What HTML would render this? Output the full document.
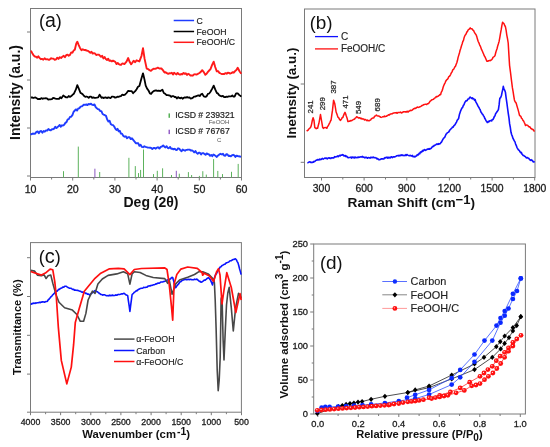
<!DOCTYPE html>
<html><head><meta charset="utf-8"><style>
html,body{margin:0;padding:0;background:#fff;}
svg{display:block;font-family:"Liberation Sans",sans-serif;will-change:transform;}
</style></head><body>
<svg width="550" height="447" viewBox="0 0 550 447">
<rect width="550" height="447" fill="#fff"/>
<rect x="30.5" y="8.5" width="211.0" height="169.0" fill="none" stroke="#7a7a7a" stroke-width="1"/>
<line x1="30.5" y1="177.5" x2="30.5" y2="180.5" stroke="#7a7a7a" stroke-width="1"/>
<line x1="51.6" y1="177.5" x2="51.6" y2="179.5" stroke="#7a7a7a" stroke-width="1"/>
<line x1="72.7" y1="177.5" x2="72.7" y2="180.5" stroke="#7a7a7a" stroke-width="1"/>
<line x1="93.8" y1="177.5" x2="93.8" y2="179.5" stroke="#7a7a7a" stroke-width="1"/>
<line x1="114.9" y1="177.5" x2="114.9" y2="180.5" stroke="#7a7a7a" stroke-width="1"/>
<line x1="136.0" y1="177.5" x2="136.0" y2="179.5" stroke="#7a7a7a" stroke-width="1"/>
<line x1="157.1" y1="177.5" x2="157.1" y2="180.5" stroke="#7a7a7a" stroke-width="1"/>
<line x1="178.2" y1="177.5" x2="178.2" y2="179.5" stroke="#7a7a7a" stroke-width="1"/>
<line x1="199.3" y1="177.5" x2="199.3" y2="180.5" stroke="#7a7a7a" stroke-width="1"/>
<line x1="220.4" y1="177.5" x2="220.4" y2="179.5" stroke="#7a7a7a" stroke-width="1"/>
<line x1="241.5" y1="177.5" x2="241.5" y2="180.5" stroke="#7a7a7a" stroke-width="1"/>
<line x1="27" y1="32" x2="30.5" y2="32" stroke="#7a7a7a" stroke-width="1"/>
<line x1="27" y1="80" x2="30.5" y2="80" stroke="#7a7a7a" stroke-width="1"/>
<line x1="27" y1="128" x2="30.5" y2="128" stroke="#7a7a7a" stroke-width="1"/>
<line x1="27" y1="176" x2="30.5" y2="176" stroke="#7a7a7a" stroke-width="1"/>
<text x="30.6" y="192.6" font-size="10.6" text-anchor="middle" font-weight="normal" fill="#1c1c1c"  stroke="#1c1c1c" stroke-width="0.3">10</text>
<text x="72.80000000000001" y="192.6" font-size="10.6" text-anchor="middle" font-weight="normal" fill="#1c1c1c"  stroke="#1c1c1c" stroke-width="0.3">20</text>
<text x="115.0" y="192.6" font-size="10.6" text-anchor="middle" font-weight="normal" fill="#1c1c1c"  stroke="#1c1c1c" stroke-width="0.3">30</text>
<text x="157.20000000000002" y="192.6" font-size="10.6" text-anchor="middle" font-weight="normal" fill="#1c1c1c"  stroke="#1c1c1c" stroke-width="0.3">40</text>
<text x="199.4" y="192.6" font-size="10.6" text-anchor="middle" font-weight="normal" fill="#1c1c1c"  stroke="#1c1c1c" stroke-width="0.3">50</text>
<text x="241.6" y="192.6" font-size="10.6" text-anchor="middle" font-weight="normal" fill="#1c1c1c"  stroke="#1c1c1c" stroke-width="0.3">60</text>
<line x1="63.5" y1="177.5" x2="63.5" y2="171.2" stroke="#5cb25c" stroke-width="1"/>
<line x1="78.3" y1="177.5" x2="78.3" y2="146.6" stroke="#5cb25c" stroke-width="1"/>
<line x1="99.7" y1="177.5" x2="99.7" y2="172" stroke="#5cb25c" stroke-width="1"/>
<line x1="128.9" y1="177.5" x2="128.9" y2="157.8" stroke="#5cb25c" stroke-width="1"/>
<line x1="135.3" y1="177.5" x2="135.3" y2="166.1" stroke="#5cb25c" stroke-width="1"/>
<line x1="138.5" y1="177.5" x2="138.5" y2="173.1" stroke="#5cb25c" stroke-width="1"/>
<line x1="140.6" y1="177.5" x2="140.6" y2="169.9" stroke="#5cb25c" stroke-width="1"/>
<line x1="143.5" y1="177.5" x2="143.5" y2="149.5" stroke="#5cb25c" stroke-width="1"/>
<line x1="153.5" y1="177.5" x2="153.5" y2="174.1" stroke="#5cb25c" stroke-width="1"/>
<line x1="157.3" y1="177.5" x2="157.3" y2="170.8" stroke="#5cb25c" stroke-width="1"/>
<line x1="162.6" y1="177.5" x2="162.6" y2="168.3" stroke="#5cb25c" stroke-width="1"/>
<line x1="171.5" y1="177.5" x2="171.5" y2="175" stroke="#5cb25c" stroke-width="1"/>
<line x1="179.3" y1="177.5" x2="179.3" y2="173.7" stroke="#5cb25c" stroke-width="1"/>
<line x1="188.4" y1="177.5" x2="188.4" y2="172.1" stroke="#5cb25c" stroke-width="1"/>
<line x1="191.6" y1="177.5" x2="191.6" y2="175" stroke="#5cb25c" stroke-width="1"/>
<line x1="199.4" y1="177.5" x2="199.4" y2="175.9" stroke="#5cb25c" stroke-width="1"/>
<line x1="202.8" y1="177.5" x2="202.8" y2="171.2" stroke="#5cb25c" stroke-width="1"/>
<line x1="206.3" y1="177.5" x2="206.3" y2="174.6" stroke="#5cb25c" stroke-width="1"/>
<line x1="213.6" y1="177.5" x2="213.6" y2="159.1" stroke="#5cb25c" stroke-width="1"/>
<line x1="217.8" y1="177.5" x2="217.8" y2="170.9" stroke="#5cb25c" stroke-width="1"/>
<line x1="222.5" y1="177.5" x2="222.5" y2="174.1" stroke="#5cb25c" stroke-width="1"/>
<line x1="231.5" y1="177.5" x2="231.5" y2="171.8" stroke="#5cb25c" stroke-width="1"/>
<line x1="238.2" y1="177.5" x2="238.2" y2="163.9" stroke="#5cb25c" stroke-width="1"/>
<line x1="94.9" y1="177.5" x2="94.9" y2="168.7" stroke="#8a58c0" stroke-width="1"/>
<line x1="176.3" y1="177.5" x2="176.3" y2="170.8" stroke="#8a58c0" stroke-width="1"/>
<polyline points="30.5,133.8 31.7,134.3 32.9,133.5 34.1,133.8 35.2,133.6 36.4,131.8 37.6,131.4 38.8,133.2 40.0,131.4 41.2,131.0 42.4,132.7 43.6,131.0 44.8,131.7 46.0,130.4 47.2,130.6 48.4,129.0 49.6,130.0 50.8,130.3 52.0,129.1 53.1,129.2 54.2,128.6 55.3,126.7 56.4,128.1 57.5,127.2 58.6,126.1 59.7,125.0 60.8,126.8 61.9,125.3 63.0,125.6 64.2,124.7 65.3,122.9 66.5,122.1 67.7,119.4 68.8,119.1 70.0,116.9 71.2,116.7 72.4,115.2 73.6,111.8 74.8,110.5 76.0,109.3 77.1,110.5 78.3,108.4 79.4,108.2 80.6,106.6 81.7,106.4 82.9,105.4 84.0,104.6 85.2,104.9 86.3,104.5 87.5,105.0 88.7,104.0 89.8,104.3 91.0,103.7 92.2,104.9 93.3,105.0 94.5,104.5 95.7,107.2 96.8,108.3 98.0,109.1 99.1,109.5 100.3,111.1 101.4,111.1 102.6,114.0 103.7,114.6 104.9,115.2 106.0,115.9 107.2,119.5 108.4,121.5 109.6,120.7 110.8,124.2 112.0,124.8 113.1,125.1 114.2,126.5 115.3,128.7 116.4,130.0 117.6,128.8 118.7,131.3 119.8,130.8 120.9,133.6 122.0,133.6 123.2,135.7 124.5,136.7 125.8,136.3 127.0,138.3 128.2,137.1 129.5,137.2 130.8,139.1 132.0,138.3 133.2,139.8 134.5,141.5 135.8,143.2 137.0,143.1 138.2,143.2 139.4,145.8 140.6,144.8 141.9,146.9 143.1,147.2 144.3,146.3 145.5,146.9 146.6,147.2 147.8,147.6 148.9,147.6 150.1,147.7 151.2,148.0 152.3,148.9 153.5,147.9 154.6,147.9 155.8,148.7 156.9,147.6 158.2,147.3 159.4,148.6 160.7,146.9 162.0,146.5 163.2,145.4 164.3,146.7 165.4,147.4 166.6,146.2 167.8,148.0 168.9,148.2 170.1,147.0 171.2,148.7 172.3,148.6 173.5,149.4 174.7,148.7 175.8,149.8 176.9,150.0 178.1,148.3 179.2,148.6 180.4,150.3 181.6,151.2 182.7,149.5 183.8,150.2 185.0,150.7 186.1,149.9 187.2,149.8 188.4,149.6 189.5,149.6 190.7,150.6 191.8,150.3 193.0,151.0 194.2,152.4 195.4,151.0 196.5,152.8 197.7,153.7 198.8,152.8 199.9,152.7 201.1,154.4 202.2,153.1 203.3,153.1 204.4,153.9 205.6,154.8 206.7,153.4 207.8,154.1 208.9,154.3 210.1,155.8 211.2,154.9 212.3,156.2 213.4,154.5 214.6,155.1 215.7,156.1 216.8,156.9 218.1,155.4 219.4,154.4 220.6,153.8 221.9,154.5 223.0,153.7 224.1,155.5 225.3,155.7 226.4,154.1 227.5,154.5 228.6,156.0 229.8,155.8 230.9,156.3 232.0,155.3 233.1,154.8 234.3,155.4 235.4,156.9 236.5,155.6 237.6,156.0 238.8,156.3 239.9,156.5 241.0,156.8" fill="none" stroke="#1f3cff" stroke-width="1.9" stroke-linejoin="round" />
<polyline points="30.9,97.5 32.1,97.4 33.2,98.0 34.4,97.6 35.5,97.5 36.7,98.2 37.8,99.2 39.0,99.0 40.2,99.0 41.3,98.1 42.5,98.8 43.6,98.4 44.8,98.3 45.9,98.2 47.1,98.5 48.3,99.7 49.5,99.4 50.7,99.3 51.9,99.2 53.1,98.0 54.2,98.2 55.4,98.6 56.6,98.8 57.8,98.9 59.0,98.9 60.2,97.3 61.4,98.2 63.3,95.4 64.8,96.6 66.2,97.4 67.5,97.3 68.7,96.0 70.0,96.9 71.3,96.1 72.5,94.9 73.8,93.8 75.8,89.7 77.3,85.1 78.8,88.7 80.5,92.9 81.7,93.5 82.9,94.5 84.1,96.0 85.3,96.9 86.4,96.5 87.6,96.8 88.7,97.9 89.9,96.6 91.0,96.7 92.1,97.8 93.3,97.3 94.4,97.9 95.6,97.8 96.7,97.7 98.2,97.4 99.6,94.6 101.5,97.8 102.6,97.4 103.8,98.1 104.9,97.4 106.0,97.5 107.2,98.1 108.3,97.3 109.4,97.7 110.5,98.2 111.7,96.7 112.8,96.6 113.9,96.8 115.1,97.7 116.2,97.4 117.3,96.7 118.5,96.8 119.6,96.4 120.9,96.2 122.3,94.7 123.7,95.1 125.0,94.7 126.6,93.0 128.2,90.8 130.0,91.2 131.6,91.1 133.1,93.2 135.2,91.2 136.6,89.2 138.0,86.8 139.4,86.0 141.5,78.2 143.0,73.3 144.5,79.6 145.7,85.7 147.1,88.6 148.5,90.5 149.9,93.4 151.1,93.9 152.3,92.2 153.6,91.1 154.8,90.6 156.0,90.3 157.2,90.9 158.8,90.7 160.3,91.1 162.4,89.7 163.8,93.0 165.2,93.8 166.6,95.2 167.8,95.1 168.9,95.3 170.0,95.7 171.2,96.9 172.3,96.1 173.5,96.1 174.7,97.2 175.8,96.9 176.9,98.5 178.1,97.1 179.2,97.9 180.4,98.3 181.5,97.6 182.6,98.7 183.8,97.8 184.9,97.3 186.0,97.6 187.1,97.0 188.3,97.7 189.4,97.3 190.5,98.5 191.7,98.4 192.8,97.8 194.0,96.6 195.2,96.6 196.3,96.1 197.5,95.7 198.7,95.3 199.8,96.1 201.0,94.4 202.2,93.8 203.8,96.4 205.3,96.8 206.6,96.3 207.9,93.9 209.2,93.5 210.5,91.8 212.1,88.9 213.7,85.6 215.2,89.4 216.8,92.9 218.0,93.6 219.2,95.3 220.4,95.9 221.7,96.4 222.9,95.9 224.1,97.0 225.3,97.1 226.4,96.7 227.6,96.9 228.8,96.3 229.9,96.4 231.1,96.4 232.3,95.5 233.4,96.6 234.6,96.5 236.1,93.3 237.7,93.3 238.9,94.7 240.1,95.6 241.3,96.7" fill="none" stroke="#000" stroke-width="1.8" stroke-linejoin="round" />
<polyline points="30.9,50.6 32.3,53.2 33.7,55.6 34.9,56.6 36.0,56.7 37.2,57.7 38.3,56.3 39.5,57.8 40.8,59.2 42.0,58.9 43.3,59.7 44.6,58.3 45.8,59.4 47.1,59.2 48.4,59.7 49.6,59.7 50.9,58.3 52.2,58.6 53.4,58.6 54.7,59.8 56.0,59.3 57.3,57.7 58.5,58.9 59.8,57.2 61.1,58.0 62.4,56.7 63.7,55.8 64.9,57.2 66.2,55.2 67.5,54.6 68.7,55.7 70.0,54.9 71.2,52.4 72.4,52.7 73.6,50.6 74.8,49.7 76.3,43.4 77.3,41.7 78.6,44.9 80.0,47.9 81.5,50.2 82.8,49.3 84.0,50.0 85.3,50.0 86.6,50.5 87.8,50.8 89.1,51.8 90.3,52.8 91.5,51.8 92.7,53.6 93.8,53.2 95.0,53.5 96.2,55.0 97.4,54.6 98.6,54.6 99.8,55.6 101.0,56.7 102.2,55.8 103.4,58.4 104.6,57.0 105.8,59.1 107.0,60.0 108.2,58.7 109.4,60.9 110.6,60.5 111.8,61.4 113.0,60.6 114.1,61.2 115.3,61.9 116.5,64.1 117.7,62.9 118.8,64.2 119.9,64.7 121.1,64.8 122.2,63.5 123.3,63.6 124.4,64.1 126.5,61.6 128.2,58.0 129.6,61.8 131.1,64.3 132.1,63.0 133.6,60.7 135.2,62.2 136.6,60.3 138.0,60.8 139.4,61.4 141.5,55.8 143.0,48.2 144.6,58.9 146.7,68.6 148.1,69.1 149.5,70.2 150.9,70.9 152.2,69.6 153.6,68.7 154.9,68.9 156.2,68.5 157.8,67.7 159.3,68.5 161.4,68.5 162.9,70.1 164.5,72.5 165.7,72.3 166.9,73.2 168.2,73.9 169.4,73.3 170.6,73.4 171.8,72.7 173.0,74.6 174.1,72.7 175.3,73.7 176.5,74.4 177.6,72.9 178.8,74.2 180.0,74.7 181.1,74.0 182.3,74.3 183.5,72.9 184.6,73.8 185.8,73.3 187.0,74.9 188.1,73.8 189.3,74.3 190.5,75.6 191.6,75.4 192.8,75.7 194.0,74.4 195.3,74.3 196.5,74.6 197.8,73.9 199.0,73.2 200.6,72.1 202.2,70.2 203.8,72.1 205.3,74.8 206.6,73.7 207.9,71.9 209.2,70.5 210.5,69.1 212.1,64.9 213.7,61.7 215.2,67.0 216.8,71.4 218.1,71.1 219.4,72.8 220.7,73.5 222.0,74.1 223.2,73.9 224.3,74.0 225.5,73.1 226.7,73.7 227.8,72.7 229.0,73.0 230.2,73.5 231.3,73.2 232.5,72.2 233.8,72.7 235.1,71.1 236.4,70.0 237.7,67.8 239.8,71.7 241.3,73.7" fill="none" stroke="#ff1a1a" stroke-width="1.9" stroke-linejoin="round" />
<text x="39" y="26.5" font-size="18" text-anchor="start" font-weight="normal" fill="#111" >(<tspan font-size="19.5">a</tspan>)</text>
<line x1="173.7" y1="20.5" x2="194.1" y2="20.5" stroke="#1f3cff" stroke-width="1.5"/>
<text x="196.5" y="23.6" font-size="8.7" text-anchor="start" font-weight="normal" fill="#222"  stroke="#222" stroke-width="0.15">C</text>
<line x1="173.7" y1="31.5" x2="194.1" y2="31.5" stroke="#000" stroke-width="1.5"/>
<text x="196.5" y="34.6" font-size="8.7" text-anchor="start" font-weight="normal" fill="#222"  stroke="#222" stroke-width="0.15">FeOOH</text>
<line x1="173.7" y1="42.3" x2="194.1" y2="42.3" stroke="#ff1a1a" stroke-width="1.5"/>
<text x="196.5" y="45.4" font-size="8.7" text-anchor="start" font-weight="normal" fill="#222"  stroke="#222" stroke-width="0.15">FeOOH/C</text>
<rect x="168.6" y="113.4" width="1.2" height="4.4" fill="#2e9e2e"/>
<rect x="168.6" y="129.7" width="1.2" height="4.4" fill="#7a38b8"/>
<text x="175.2" y="118.1" font-size="8.7" text-anchor="start" font-weight="normal" fill="#222"  stroke="#222" stroke-width="0.2">ICSD # 239321</text>
<text x="219" y="123.8" font-size="6" text-anchor="middle" font-weight="normal" fill="#555" >FeOOH</text>
<text x="175.2" y="134.1" font-size="8.7" text-anchor="start" font-weight="normal" fill="#222"  stroke="#222" stroke-width="0.2">ICSD # 76767</text>
<text x="219.2" y="142" font-size="6" text-anchor="middle" font-weight="normal" fill="#555" >C</text>
<text x="19.5" y="92.5" font-size="14" text-anchor="middle" font-weight="bold" fill="#111" transform="rotate(-90 19.5 92.5)" >Intensity (a.u.)</text>
<text x="151" y="207" font-size="14" text-anchor="middle" font-weight="bold" fill="#111" >Deg (2θ)</text>
<rect x="304.5" y="9" width="230.5" height="168.5" fill="none" stroke="#7a7a7a" stroke-width="1"/>
<line x1="321.5" y1="177.5" x2="321.5" y2="180.5" stroke="#7a7a7a" stroke-width="1"/>
<line x1="342.8" y1="177.5" x2="342.8" y2="179.5" stroke="#7a7a7a" stroke-width="1"/>
<line x1="364.1" y1="177.5" x2="364.1" y2="180.5" stroke="#7a7a7a" stroke-width="1"/>
<line x1="385.5" y1="177.5" x2="385.5" y2="179.5" stroke="#7a7a7a" stroke-width="1"/>
<line x1="406.8" y1="177.5" x2="406.8" y2="180.5" stroke="#7a7a7a" stroke-width="1"/>
<line x1="428.1" y1="177.5" x2="428.1" y2="179.5" stroke="#7a7a7a" stroke-width="1"/>
<line x1="449.4" y1="177.5" x2="449.4" y2="180.5" stroke="#7a7a7a" stroke-width="1"/>
<line x1="470.7" y1="177.5" x2="470.7" y2="179.5" stroke="#7a7a7a" stroke-width="1"/>
<line x1="492.1" y1="177.5" x2="492.1" y2="180.5" stroke="#7a7a7a" stroke-width="1"/>
<line x1="513.4" y1="177.5" x2="513.4" y2="179.5" stroke="#7a7a7a" stroke-width="1"/>
<line x1="534.7" y1="177.5" x2="534.7" y2="180.5" stroke="#7a7a7a" stroke-width="1"/>
<line x1="300.7" y1="84" x2="304.5" y2="84" stroke="#7a7a7a" stroke-width="1"/>
<line x1="300.7" y1="162.3" x2="304.5" y2="162.3" stroke="#7a7a7a" stroke-width="1"/>
<text x="321.5" y="192" font-size="10.4" text-anchor="middle" font-weight="normal" fill="#1c1c1c"  stroke="#1c1c1c" stroke-width="0.3">300</text>
<text x="364.14" y="192" font-size="10.4" text-anchor="middle" font-weight="normal" fill="#1c1c1c"  stroke="#1c1c1c" stroke-width="0.3">600</text>
<text x="406.78" y="192" font-size="10.4" text-anchor="middle" font-weight="normal" fill="#1c1c1c"  stroke="#1c1c1c" stroke-width="0.3">900</text>
<text x="449.42" y="192" font-size="10.4" text-anchor="middle" font-weight="normal" fill="#1c1c1c"  stroke="#1c1c1c" stroke-width="0.3">1200</text>
<text x="492.06" y="192" font-size="10.4" text-anchor="middle" font-weight="normal" fill="#1c1c1c"  stroke="#1c1c1c" stroke-width="0.3">1500</text>
<text x="534.7" y="192" font-size="10.4" text-anchor="middle" font-weight="normal" fill="#1c1c1c"  stroke="#1c1c1c" stroke-width="0.3">1800</text>
<polyline points="307.3,162.7 308.0,162.7 308.6,162.3 309.3,162.0 310.0,161.7 310.7,162.5 311.4,162.3 312.0,162.6 312.7,162.1 313.3,162.3 313.9,161.3 314.5,161.6 315.2,161.1 315.8,160.4 316.4,160.1 317.0,160.2 317.6,159.5 318.2,159.8 318.8,160.0 319.4,159.2 320.0,159.7 320.6,159.4 321.2,159.5 321.8,158.8 322.4,158.4 323.0,159.1 323.6,159.0 324.2,158.5 324.8,158.0 325.4,158.1 326.0,158.5 326.6,158.0 327.2,158.8 327.8,158.3 328.5,157.8 329.1,158.2 329.7,157.8 330.3,158.5 330.9,158.4 331.5,157.8 332.1,157.9 332.7,157.9 333.3,157.9 333.9,157.9 334.6,156.6 335.2,156.9 335.8,157.0 336.4,156.5 337.1,156.6 337.7,155.9 338.3,156.6 338.9,156.0 339.6,155.4 340.2,155.9 340.8,155.3 341.4,155.0 342.1,155.1 342.7,154.6 343.3,154.9 344.0,156.0 344.6,156.0 345.3,155.5 345.9,156.7 346.5,156.0 347.2,156.7 347.8,157.6 348.5,157.6 349.1,157.5 349.7,157.5 350.3,157.5 350.9,157.1 351.5,158.1 352.1,157.0 352.7,157.4 353.3,157.7 353.9,157.2 354.5,157.9 355.1,157.0 355.8,157.8 356.4,157.7 357.0,157.3 357.6,157.6 358.2,157.0 358.8,157.4 359.4,157.3 360.0,156.9 360.6,156.9 361.2,157.1 361.8,156.7 362.4,156.4 363.0,157.4 363.6,157.0 364.2,157.4 364.9,157.9 365.5,157.3 366.1,157.2 366.7,157.5 367.3,158.2 368.0,157.8 368.6,157.6 369.3,157.7 370.0,158.2 370.7,157.2 371.4,157.3 372.0,157.8 372.7,157.3 373.3,157.1 373.9,157.6 374.5,157.7 375.1,157.5 375.7,158.0 376.4,158.1 377.0,158.9 377.6,158.5 378.2,159.1 378.8,159.7 379.4,159.8 380.0,159.4 380.6,159.4 381.2,158.9 381.9,158.9 382.5,158.8 383.1,159.0 383.8,159.0 384.4,158.0 385.0,157.5 385.6,158.0 386.2,157.4 386.8,157.3 387.4,158.1 388.0,157.2 388.6,157.9 389.3,157.4 389.9,158.0 390.5,157.8 391.1,156.7 391.7,156.8 392.3,157.6 393.0,157.1 393.6,156.7 394.3,157.0 394.9,156.9 395.6,156.4 396.2,156.2 396.9,155.7 397.5,155.8 398.2,155.4 398.8,155.9 399.5,155.7 400.1,155.1 400.8,155.7 401.4,155.0 402.0,154.9 402.6,155.5 403.3,155.3 403.9,155.7 404.5,155.4 405.2,155.4 405.8,154.7 406.4,155.4 407.0,154.5 407.7,155.1 408.3,155.4 409.0,155.6 409.6,155.7 410.3,155.3 410.9,155.8 411.6,156.1 412.2,155.4 412.9,156.6 413.5,156.7 414.2,156.3 414.8,156.9 415.5,156.6 416.1,155.9 416.7,155.9 417.3,154.6 417.9,155.0 418.5,154.7 419.1,153.3 419.8,153.6 420.4,152.1 421.0,152.5 421.6,151.3 422.2,151.6 422.8,150.4 423.4,150.9 424.1,149.7 424.7,149.6 425.4,150.4 426.0,150.1 426.7,149.8 427.3,149.1 428.0,149.1 428.6,149.2 429.2,148.5 429.8,149.2 430.4,148.5 431.0,148.4 431.6,147.7 432.2,146.9 432.9,146.2 433.5,146.5 434.1,145.4 434.7,145.5 435.3,145.0 435.9,144.7 436.5,144.1 437.2,144.0 437.8,144.4 438.4,143.7 439.0,144.2 439.7,143.7 440.3,143.7 440.9,142.5 441.6,142.0 442.2,140.7 442.9,139.4 443.5,138.4 444.2,137.7 444.8,137.1 445.5,135.5 446.1,134.1 446.7,133.6 447.4,132.7 448.0,132.4 448.7,132.0 449.3,131.0 450.0,129.8 450.6,129.2 451.3,128.6 451.9,127.9 452.5,127.1 453.2,127.1 453.8,125.8 454.5,125.2 455.1,124.6 455.8,123.2 456.5,122.1 457.2,120.3 457.9,119.4 458.6,118.5 459.4,114.6 460.1,112.4 460.7,110.8 461.4,109.1 462.0,107.9 462.6,107.5 463.3,105.4 463.9,104.9 464.6,102.9 465.2,101.9 465.8,100.9 466.4,100.9 467.1,100.6 467.7,99.3 468.3,99.1 468.9,98.9 469.6,97.5 470.2,97.1 470.8,97.7 471.4,98.3 472.1,97.8 472.7,98.8 473.3,98.5 473.9,98.9 474.6,100.3 475.2,99.6 475.8,101.9 476.4,102.9 477.1,104.1 477.7,105.4 478.3,106.6 478.9,107.4 479.6,108.9 480.2,109.8 480.8,111.7 481.5,112.7 482.1,113.8 482.8,114.3 483.4,115.8 484.1,116.5 484.7,118.2 485.4,119.3 486.0,120.7 486.7,121.4 487.3,122.5 487.9,122.4 488.6,121.3 489.2,121.6 489.8,120.7 490.4,120.8 491.1,120.3 491.7,121.0 492.3,119.6 493.0,119.5 493.6,118.4 494.3,116.6 494.9,115.9 495.6,113.8 496.3,112.8 497.0,111.7 497.7,110.7 498.4,109.6 499.1,104.9 499.8,98.4 500.6,97.6 501.4,95.8 502.0,92.6 502.7,89.8 503.3,86.4 504.0,89.1 504.7,90.2 505.4,92.2 506.1,97.7 506.9,103.2 507.6,108.5 508.3,113.7 509.0,118.2 509.6,123.7 510.3,127.4 511.0,132.3 511.7,134.7 512.4,136.4 513.0,138.4 513.7,139.7 514.3,140.9 515.0,141.9 515.6,144.0 516.2,145.3 516.9,147.3 517.5,148.4 518.1,149.4 518.8,150.2 519.4,150.6 520.0,151.8 520.7,152.6 521.3,152.4 522.0,154.1 522.6,154.7 523.2,155.5 523.9,155.6 524.5,156.2 525.1,156.4 525.7,157.0 526.3,157.9 526.9,157.7 527.5,157.6 528.1,158.3 528.7,158.3 529.4,159.3 530.0,159.8 530.6,160.3 531.2,159.7 531.8,160.4 532.4,160.4 533.0,161.7 533.6,161.9 534.8,161.7" fill="none" stroke="#1010ff" stroke-width="1.6" stroke-linejoin="round" />
<polyline points="306.7,131.2 307.4,130.4 308.1,130.2 308.8,128.9 309.5,128.6 310.2,127.8 310.9,126.8 311.6,124.1 312.3,120.5 313.1,117.8 314.0,120.6 314.8,127.6 315.5,128.0 316.2,128.6 316.9,128.0 317.6,128.2 318.2,125.8 318.9,123.3 319.5,120.1 320.5,114.5 321.5,120.5 322.7,127.5 323.4,128.4 324.1,127.8 324.8,127.6 325.5,127.6 326.2,127.8 326.9,128.3 327.5,126.6 328.1,125.9 328.7,124.9 329.3,123.5 329.9,122.6 330.5,121.0 331.1,120.0 331.8,114.9 332.5,110.2 333.6,100.2 334.8,103.8 335.5,108.1 336.1,112.0 336.7,113.5 337.4,115.6 338.0,117.2 338.8,117.9 339.5,119.3 340.3,120.4 340.9,119.9 341.6,118.9 342.2,117.5 342.9,117.4 343.5,115.6 344.2,113.9 345.0,112.3 345.6,113.7 346.3,116.0 347.1,118.2 347.9,121.5 348.6,121.4 349.3,121.1 349.9,121.2 350.6,120.5 351.3,120.7 352.0,120.5 352.6,120.0 353.3,119.5 353.9,119.4 354.6,119.0 355.2,118.1 355.8,117.9 356.5,116.8 357.1,117.0 357.7,117.2 358.4,117.9 359.0,118.0 359.6,117.7 360.2,118.1 360.9,118.7 361.5,118.3 362.1,119.1 362.7,118.9 363.3,119.0 363.9,119.1 364.5,120.0 365.1,119.5 365.8,119.8 366.4,120.1 367.0,120.7 367.6,120.1 368.2,120.6 368.8,120.8 369.4,120.7 370.1,120.2 370.7,119.8 371.3,118.8 372.0,118.5 372.6,118.0 373.2,118.0 373.9,117.7 374.5,116.4 375.1,116.0 375.8,115.6 376.4,115.1 377.0,115.6 377.6,116.0 378.2,115.9 378.8,115.9 379.4,116.5 380.0,116.7 380.6,117.2 381.2,117.4 381.9,117.1 382.5,116.8 383.1,116.8 383.7,116.7 384.4,116.0 385.0,116.7 385.6,116.4 386.3,116.3 386.9,116.0 387.5,115.4 388.1,115.2 388.8,114.7 389.4,115.0 390.0,114.2 390.6,114.0 391.3,113.9 391.9,113.7 392.5,113.7 393.1,113.2 393.8,112.9 394.4,112.9 395.0,112.7 395.6,112.9 396.2,112.5 396.9,113.3 397.5,113.0 398.1,112.4 398.7,112.5 399.3,112.5 399.9,112.4 400.5,112.1 401.1,112.8 401.8,112.9 402.4,112.3 403.0,112.2 403.6,111.7 404.2,111.7 404.8,111.9 405.4,111.7 406.0,112.2 406.7,111.5 407.3,111.3 407.9,112.1 408.5,111.6 409.1,110.9 409.7,111.0 410.3,110.2 410.9,110.4 411.5,110.6 412.1,110.2 412.7,109.7 413.3,109.0 413.9,108.8 414.5,108.3 415.1,108.6 415.7,108.0 416.3,108.0 416.9,107.3 417.5,107.0 418.1,107.4 418.7,107.3 419.4,107.0 420.0,106.7 420.6,106.5 421.2,106.2 421.8,105.5 422.4,105.6 423.0,105.2 423.6,104.6 424.2,104.4 424.9,104.4 425.5,104.2 426.1,104.4 426.7,104.5 427.3,103.7 427.9,103.8 428.5,103.3 429.1,102.8 429.7,101.8 430.3,101.1 430.9,100.7 431.5,100.2 432.1,99.7 432.7,99.6 433.3,99.4 433.9,98.9 434.5,98.1 435.1,97.8 435.7,97.5 436.3,96.5 436.9,96.7 437.5,96.6 438.2,96.1 438.8,95.7 439.4,95.1 440.0,94.4 440.6,94.7 441.2,92.4 441.9,91.1 442.6,89.4 443.2,87.0 443.9,85.2 444.5,83.9 445.1,82.8 445.7,81.3 446.4,80.3 447.0,79.4 447.6,79.2 448.2,78.2 448.8,76.6 449.5,76.3 450.1,75.5 450.7,74.3 451.3,72.9 451.9,72.1 452.5,70.6 453.1,69.4 453.7,69.3 454.3,68.0 454.9,66.8 455.5,66.2 456.1,64.6 456.8,62.7 457.5,60.3 458.1,57.4 458.8,55.1 459.5,52.7 460.1,50.3 460.8,48.3 461.5,45.7 462.2,43.8 462.8,41.5 463.5,40.3 464.1,37.7 464.8,35.8 465.5,34.7 466.2,33.8 466.8,32.1 467.5,31.4 468.2,29.8 468.9,29.4 469.5,28.9 470.2,27.9 470.9,28.7 471.5,28.8 472.2,29.0 472.9,30.1 473.6,30.5 474.2,31.9 474.9,33.2 475.5,34.1 476.2,34.9 476.9,37.1 477.5,39.2 478.2,41.5 478.9,42.8 479.6,44.8 480.3,46.1 480.9,47.7 481.6,49.7 482.3,51.0 483.0,52.7 483.7,54.3 484.3,55.9 485.0,56.9 485.7,58.5 486.3,59.9 487.0,61.3 487.7,61.3 488.3,60.8 489.0,60.7 489.7,60.4 490.3,60.7 491.0,60.2 491.7,59.6 492.3,58.9 493.0,57.4 493.7,56.9 494.3,56.5 495.0,55.6 495.7,52.7 496.4,50.4 497.1,48.5 497.7,45.9 498.4,43.8 499.1,41.4 499.8,37.6 500.5,33.3 501.2,29.7 501.9,25.3 502.6,22.2 503.3,23.2 504.0,23.7 504.7,25.5 505.4,26.7 506.1,30.1 506.8,35.1 507.5,38.7 508.2,43.0 508.9,54.6 509.6,65.6 510.5,72.3 511.4,79.9 512.4,87.7 513.1,91.7 513.7,95.7 514.4,99.9 515.1,101.8 515.9,102.6 516.6,104.6 517.3,107.1 518.0,109.4 518.8,112.4 519.5,115.3 520.2,116.0 520.9,116.4 521.5,118.2 522.2,118.8 522.9,120.3 523.5,120.8 524.2,122.3 524.8,123.5 525.5,125.6 526.3,125.1 527.0,125.1 527.8,125.4 528.4,126.4 529.1,126.9 529.7,126.8 530.3,127.3 530.9,128.6 531.6,128.7 532.2,129.4 532.8,129.3 533.4,129.8 534.1,131.0 534.7,131.3" fill="none" stroke="#ff1010" stroke-width="1.5" stroke-linejoin="round" />
<text x="309.8" y="28.6" font-size="18" text-anchor="start" font-weight="normal" fill="#111" >(<tspan font-size="19">b</tspan>)</text>
<line x1="315" y1="36.6" x2="338" y2="36.6" stroke="#1010ff" stroke-width="1.3"/>
<text x="340.9" y="40.1" font-size="10" text-anchor="start" font-weight="normal" fill="#222"  stroke="#222" stroke-width="0.15">C</text>
<line x1="315" y1="48.9" x2="338" y2="48.9" stroke="#ff1010" stroke-width="1.3"/>
<text x="340.9" y="52.4" font-size="10" text-anchor="start" font-weight="normal" fill="#222"  stroke="#222" stroke-width="0.15">FeOOH/C</text>
<text x="313.3" y="106.9" font-size="7.9" text-anchor="middle" font-weight="normal" fill="#2a2a2a" transform="rotate(-90 313.3 106.9)"  stroke="#2a2a2a" stroke-width="0.25">241</text>
<text x="324.8" y="103.7" font-size="7.9" text-anchor="middle" font-weight="normal" fill="#2a2a2a" transform="rotate(-90 324.8 103.7)"  stroke="#2a2a2a" stroke-width="0.25">299</text>
<text x="335.8" y="87" font-size="7.9" text-anchor="middle" font-weight="normal" fill="#2a2a2a" transform="rotate(-90 335.8 87)"  stroke="#2a2a2a" stroke-width="0.25">387</text>
<text x="347.8" y="102" font-size="7.9" text-anchor="middle" font-weight="normal" fill="#2a2a2a" transform="rotate(-90 347.8 102)"  stroke="#2a2a2a" stroke-width="0.25">471</text>
<text x="360.8" y="107.5" font-size="7.9" text-anchor="middle" font-weight="normal" fill="#2a2a2a" transform="rotate(-90 360.8 107.5)"  stroke="#2a2a2a" stroke-width="0.25">549</text>
<text x="379.8" y="104.8" font-size="7.9" text-anchor="middle" font-weight="normal" fill="#2a2a2a" transform="rotate(-90 379.8 104.8)"  stroke="#2a2a2a" stroke-width="0.25">689</text>
<text x="295.5" y="93" font-size="13.4" text-anchor="middle" font-weight="bold" fill="#111" transform="rotate(-90 295.5 93)" >Inetnsity (a.u.)</text>
<text x="347.6" y="206.5" font-size="13.7" font-weight="bold" fill="#111">Raman Shift (cm<tspan font-size="13" dx="0" dy="-3">−1</tspan><tspan dy="3">)</tspan></text>
<rect x="30.5" y="242.6" width="210.9" height="169.6" fill="none" stroke="#7a7a7a" stroke-width="1"/>
<line x1="30.5" y1="412.2" x2="30.5" y2="415.2" stroke="#7a7a7a" stroke-width="1"/>
<line x1="45.6" y1="412.2" x2="45.6" y2="414.2" stroke="#7a7a7a" stroke-width="1"/>
<line x1="60.6" y1="412.2" x2="60.6" y2="415.2" stroke="#7a7a7a" stroke-width="1"/>
<line x1="75.7" y1="412.2" x2="75.7" y2="414.2" stroke="#7a7a7a" stroke-width="1"/>
<line x1="90.8" y1="412.2" x2="90.8" y2="415.2" stroke="#7a7a7a" stroke-width="1"/>
<line x1="105.8" y1="412.2" x2="105.8" y2="414.2" stroke="#7a7a7a" stroke-width="1"/>
<line x1="120.9" y1="412.2" x2="120.9" y2="415.2" stroke="#7a7a7a" stroke-width="1"/>
<line x1="136.0" y1="412.2" x2="136.0" y2="414.2" stroke="#7a7a7a" stroke-width="1"/>
<line x1="151.1" y1="412.2" x2="151.1" y2="415.2" stroke="#7a7a7a" stroke-width="1"/>
<line x1="166.1" y1="412.2" x2="166.1" y2="414.2" stroke="#7a7a7a" stroke-width="1"/>
<line x1="181.2" y1="412.2" x2="181.2" y2="415.2" stroke="#7a7a7a" stroke-width="1"/>
<line x1="196.3" y1="412.2" x2="196.3" y2="414.2" stroke="#7a7a7a" stroke-width="1"/>
<line x1="211.3" y1="412.2" x2="211.3" y2="415.2" stroke="#7a7a7a" stroke-width="1"/>
<line x1="226.4" y1="412.2" x2="226.4" y2="414.2" stroke="#7a7a7a" stroke-width="1"/>
<line x1="241.5" y1="412.2" x2="241.5" y2="415.2" stroke="#7a7a7a" stroke-width="1"/>
<line x1="27" y1="257.7" x2="30.5" y2="257.7" stroke="#7a7a7a" stroke-width="1"/>
<line x1="27" y1="296.5" x2="30.5" y2="296.5" stroke="#7a7a7a" stroke-width="1"/>
<line x1="27" y1="335.3" x2="30.5" y2="335.3" stroke="#7a7a7a" stroke-width="1"/>
<line x1="27" y1="374.1" x2="30.5" y2="374.1" stroke="#7a7a7a" stroke-width="1"/>
<line x1="27" y1="412.2" x2="30.5" y2="412.2" stroke="#7a7a7a" stroke-width="1"/>
<text x="30.5" y="424.6" font-size="8.8" text-anchor="middle" font-weight="normal" fill="#1c1c1c"  stroke="#1c1c1c" stroke-width="0.3">4000</text>
<text x="60.64" y="424.6" font-size="8.8" text-anchor="middle" font-weight="normal" fill="#1c1c1c"  stroke="#1c1c1c" stroke-width="0.3">3500</text>
<text x="90.78" y="424.6" font-size="8.8" text-anchor="middle" font-weight="normal" fill="#1c1c1c"  stroke="#1c1c1c" stroke-width="0.3">3000</text>
<text x="120.92" y="424.6" font-size="8.8" text-anchor="middle" font-weight="normal" fill="#1c1c1c"  stroke="#1c1c1c" stroke-width="0.3">2500</text>
<text x="151.06" y="424.6" font-size="8.8" text-anchor="middle" font-weight="normal" fill="#1c1c1c"  stroke="#1c1c1c" stroke-width="0.3">2000</text>
<text x="181.2" y="424.6" font-size="8.8" text-anchor="middle" font-weight="normal" fill="#1c1c1c"  stroke="#1c1c1c" stroke-width="0.3">1500</text>
<text x="211.34" y="424.6" font-size="8.8" text-anchor="middle" font-weight="normal" fill="#1c1c1c"  stroke="#1c1c1c" stroke-width="0.3">1000</text>
<text x="241.48000000000002" y="424.6" font-size="8.8" text-anchor="middle" font-weight="normal" fill="#1c1c1c"  stroke="#1c1c1c" stroke-width="0.3">500</text>
<polyline points="30.7,303.7 31.4,304.1 32.2,303.4 32.9,303.7 33.6,303.1 34.3,303.1 35.1,303.5 35.8,302.9 36.5,303.1 37.2,302.8 38.0,302.7 38.7,302.6 39.4,302.3 40.2,302.7 40.9,302.1 41.6,302.1 42.4,301.9 43.1,301.9 43.9,302.0 44.6,302.2 45.3,301.8 46.1,301.5 46.8,301.5 47.5,301.2 48.3,299.7 49.0,299.3 49.7,298.3 50.4,297.6 51.2,296.6 51.9,296.0 52.6,295.0 53.3,294.3 54.1,293.6 54.8,292.6 55.6,291.7 56.3,291.1 57.1,291.1 57.9,290.2 58.7,289.4 59.4,289.4 60.2,288.6 61.0,288.3 61.7,288.1 62.5,287.3 63.2,287.0 64.0,287.1 64.7,286.2 65.5,286.3 66.3,286.2 67.0,286.9 67.8,287.3 68.5,287.8 69.3,288.1 70.0,288.2 70.8,288.3 71.5,288.6 72.3,289.2 73.0,289.4 73.7,289.3 74.4,290.1 75.1,290.0 75.8,290.3 76.5,290.2 77.2,290.4 77.9,290.4 78.7,290.8 79.4,291.0 80.1,291.3 80.8,291.4 81.5,292.0 82.2,292.2 82.9,291.9 83.6,292.2 84.3,292.3 85.1,293.0 85.8,293.5 86.6,293.4 87.4,294.1 88.2,294.1 88.9,294.3 89.7,295.2 90.5,294.3 91.2,293.5 92.0,293.1 92.7,292.3 93.5,291.8 94.2,291.2 95.0,290.5 95.7,291.1 96.5,291.4 97.2,291.7 97.9,292.2 98.6,292.6 99.3,293.4 100.1,293.7 100.8,294.5 101.5,294.5 102.2,294.8 103.0,295.2 103.7,294.7 104.4,294.8 105.1,295.1 105.9,295.4 106.6,295.8 107.3,295.8 108.1,295.5 108.8,295.9 109.5,295.2 110.2,295.7 111.0,295.2 111.7,295.6 112.4,295.0 113.2,295.6 113.9,295.4 114.6,295.5 115.3,295.2 116.1,294.8 116.8,295.3 117.5,294.8 118.3,294.4 119.0,294.6 119.7,294.4 120.4,294.2 121.2,293.9 121.9,293.7 122.6,293.9 123.4,293.6 124.1,293.2 124.8,293.9 125.5,294.5 126.3,295.0 127.0,295.2 127.7,295.6 128.4,300.9 129.2,306.2 129.9,311.5 130.6,305.9 131.4,299.8 132.1,294.5 132.8,293.9 133.5,293.2 134.3,292.3 135.0,291.9 135.7,291.4 136.4,290.6 137.2,290.7 137.9,289.9 138.6,289.2 139.3,289.1 140.1,288.6 140.8,288.4 141.5,288.3 142.2,288.3 143.0,288.0 143.7,287.3 144.4,287.5 145.2,287.5 145.9,287.2 146.6,287.1 147.4,286.9 148.1,286.1 148.8,286.0 149.5,285.9 150.3,286.0 151.0,285.4 151.7,285.5 152.5,285.3 153.2,284.8 153.9,284.7 154.6,284.6 155.4,284.3 156.1,283.7 156.8,283.9 157.6,283.2 158.3,283.0 159.0,283.2 159.7,282.9 160.4,282.3 161.2,282.0 161.9,282.0 162.6,282.0 163.4,281.6 164.1,281.5 164.8,281.2 165.6,280.9 166.5,280.5 167.3,280.0 168.2,279.7 169.0,279.5 169.7,279.1 170.5,278.9 171.2,278.0 172.0,277.4 172.7,277.5 173.6,280.7 174.4,284.4 175.3,287.7 176.1,287.2 176.9,285.8 177.7,284.9 178.4,284.2 179.2,283.0 180.0,281.8 180.8,281.8 181.6,280.9 182.3,280.3 183.1,280.2 183.9,279.6 184.6,279.6 185.3,279.2 186.0,279.6 186.8,279.5 187.5,279.6 188.2,279.3 188.9,279.6 189.6,279.6 190.3,279.3 191.0,279.5 191.7,279.6 192.4,279.7 193.1,279.7 193.8,279.6 194.5,279.1 195.2,279.5 195.9,279.5 196.6,279.1 197.3,279.4 198.0,280.2 198.8,280.8 199.5,281.4 200.3,281.4 201.0,282.3 201.8,282.0 202.6,281.4 203.4,280.8 204.2,280.1 205.0,280.3 205.7,279.7 206.5,279.1 207.2,278.3 208.0,278.1 208.7,277.6 209.6,278.9 210.5,280.1 211.5,282.4 212.5,284.9 213.3,281.9 214.2,278.9 215.0,276.0 215.7,274.4 216.5,273.6 217.2,272.0 218.0,270.6 218.7,269.4 219.5,268.2 220.2,267.0 221.0,266.7 221.8,265.7 222.6,265.3 223.4,264.9 224.2,264.3 225.0,264.2 225.8,263.3 226.6,262.8 227.3,262.6 228.1,262.3 228.9,261.9 229.7,261.2 230.4,260.7 231.1,260.8 231.8,260.3 232.6,259.8 233.3,259.5 234.0,259.4 234.7,259.1 235.4,258.7 236.3,259.7 237.1,261.3 238.0,262.9 238.8,265.7 239.6,269.0 240.3,271.4 241.1,274.6" fill="none" stroke="#0a14ff" stroke-width="1.6" stroke-linejoin="round" />
<polyline points="30.7,270.4 34.7,271.1 37.4,275.1 41.4,275.8 44.1,274.8 46.1,278.5 48.1,275.8 50.8,275.1 52.8,283.2 56.2,295.2 59.0,302.2 64.6,307.8 72.4,310.1 76.9,314.5 80.3,321.3 83.6,321.3 85.9,313.4 88.1,300.0 92.4,291.2 95.0,293.5 97.9,284.1 102.3,279.0 108.1,275.4 116.8,273.9 123.4,271.7 127.7,273.9 129.9,284.1 132.1,273.9 134.3,271.7 140.1,272.5 145.9,275.4 153.2,277.5 164.8,278.6 167.7,283.4 169.2,279.7 172.1,294.3 175.5,284.1 179.5,280.0 187.7,277.3 194.5,274.5 198.6,271.8 202.7,271.8 208.2,273.9 213.6,279.3 214.4,283.0 215.2,300.0 216.1,328.0 217.2,370.0 218.2,390.6 219.2,380.0 220.2,357.0 220.8,320.0 221.1,299.0 222.0,296.0 223.1,339.8 224.0,360.0 225.4,328.0 226.5,305.0 227.8,293.0 229.2,287.4 231.3,307.8 233.3,331.0 235.6,307.8 238.5,293.3 241.2,298.0" fill="none" stroke="#484848" stroke-width="1.6" stroke-linejoin="round" />
<polyline points="30.7,271.5 32.7,272.2 41.4,275.1 45.4,273.1 50.1,269.1 52.8,269.8 54.8,281.8 56.2,295.2 58.3,326.8 61.3,360.4 66.8,383.9 71.3,367.1 73.6,344.7 75.3,322.4 79.1,308.9 84.3,291.2 95.0,278.3 100.8,273.2 109.5,268.8 118.3,268.4 124.1,268.8 129.9,274.6 134.3,269.5 141.5,268.5 164.8,267.8 167.0,269.5 169.2,284.1 171.4,305.9 172.7,320.1 174.1,284.1 176.8,274.5 180.9,269.1 187.7,267.0 197.3,268.4 202.0,272.5 202.7,275.2 204.1,273.2 209.5,275.9 213.6,281.4 216.5,272.0 218.5,268.6 220.0,275.0 222.0,304.0 224.0,290.0 226.8,272.7 231.3,287.4 235.8,312.5 240.0,293.6 241.2,300.0" fill="none" stroke="#ff1010" stroke-width="1.7" stroke-linejoin="round" />
<text x="38.8" y="263.2" font-size="18" text-anchor="start" font-weight="normal" fill="#111" >(<tspan font-size="20">c</tspan>)</text>
<line x1="114" y1="339.1" x2="134.5" y2="339.1" stroke="#484848" stroke-width="1.5"/>
<text x="136.2" y="342.1" font-size="8.8" text-anchor="start" font-weight="normal" fill="#222"  stroke="#222" stroke-width="0.15">α-FeOOH</text>
<line x1="114" y1="350.5" x2="134.5" y2="350.5" stroke="#0a14ff" stroke-width="1.5"/>
<text x="136.2" y="353.5" font-size="8.8" text-anchor="start" font-weight="normal" fill="#222"  stroke="#222" stroke-width="0.15">Carbon</text>
<line x1="114" y1="361.5" x2="134.5" y2="361.5" stroke="#ff1010" stroke-width="1.5"/>
<text x="136.2" y="364.5" font-size="8.8" text-anchor="start" font-weight="normal" fill="#222"  stroke="#222" stroke-width="0.15">α-FeOOH/C</text>
<text x="21.5" y="327.2" font-size="11.1" text-anchor="middle" font-weight="bold" fill="#111" transform="rotate(-90 21.5 327.2)" >Transmittance (%)</text>
<text x="82.2" y="437.8" font-size="11.3" font-weight="bold" fill="#111">Wavenumber (cm<tspan font-size="10.5" dx="1" dy="-3">-1</tspan><tspan dy="3">)</tspan></text>
<rect x="313.7" y="244" width="211.7" height="170" fill="none" stroke="#7a7a7a" stroke-width="1"/>
<line x1="317.8" y1="414" x2="317.8" y2="417" stroke="#7a7a7a" stroke-width="1"/>
<line x1="338.1" y1="414" x2="338.1" y2="416" stroke="#7a7a7a" stroke-width="1"/>
<line x1="358.3" y1="414" x2="358.3" y2="417" stroke="#7a7a7a" stroke-width="1"/>
<line x1="378.6" y1="414" x2="378.6" y2="416" stroke="#7a7a7a" stroke-width="1"/>
<line x1="398.8" y1="414" x2="398.8" y2="417" stroke="#7a7a7a" stroke-width="1"/>
<line x1="419.1" y1="414" x2="419.1" y2="416" stroke="#7a7a7a" stroke-width="1"/>
<line x1="439.3" y1="414" x2="439.3" y2="417" stroke="#7a7a7a" stroke-width="1"/>
<line x1="459.6" y1="414" x2="459.6" y2="416" stroke="#7a7a7a" stroke-width="1"/>
<line x1="479.8" y1="414" x2="479.8" y2="417" stroke="#7a7a7a" stroke-width="1"/>
<line x1="500.1" y1="414" x2="500.1" y2="416" stroke="#7a7a7a" stroke-width="1"/>
<line x1="520.3" y1="414" x2="520.3" y2="417" stroke="#7a7a7a" stroke-width="1"/>
<line x1="310.2" y1="414.0" x2="313.7" y2="414.0" stroke="#7a7a7a" stroke-width="1"/>
<line x1="311.7" y1="397.0" x2="313.7" y2="397.0" stroke="#7a7a7a" stroke-width="1"/>
<line x1="310.2" y1="380.0" x2="313.7" y2="380.0" stroke="#7a7a7a" stroke-width="1"/>
<line x1="311.7" y1="363.0" x2="313.7" y2="363.0" stroke="#7a7a7a" stroke-width="1"/>
<line x1="310.2" y1="346.0" x2="313.7" y2="346.0" stroke="#7a7a7a" stroke-width="1"/>
<line x1="311.7" y1="329.0" x2="313.7" y2="329.0" stroke="#7a7a7a" stroke-width="1"/>
<line x1="310.2" y1="312.0" x2="313.7" y2="312.0" stroke="#7a7a7a" stroke-width="1"/>
<line x1="311.7" y1="295.0" x2="313.7" y2="295.0" stroke="#7a7a7a" stroke-width="1"/>
<line x1="310.2" y1="278.0" x2="313.7" y2="278.0" stroke="#7a7a7a" stroke-width="1"/>
<line x1="311.7" y1="261.0" x2="313.7" y2="261.0" stroke="#7a7a7a" stroke-width="1"/>
<line x1="310.2" y1="244.0" x2="313.7" y2="244.0" stroke="#7a7a7a" stroke-width="1"/>
<text x="317.8" y="427.2" font-size="9.3" text-anchor="middle" font-weight="normal" fill="#1c1c1c"  stroke="#1c1c1c" stroke-width="0.3">0.0</text>
<text x="358.3" y="427.2" font-size="9.3" text-anchor="middle" font-weight="normal" fill="#1c1c1c"  stroke="#1c1c1c" stroke-width="0.3">0.2</text>
<text x="398.8" y="427.2" font-size="9.3" text-anchor="middle" font-weight="normal" fill="#1c1c1c"  stroke="#1c1c1c" stroke-width="0.3">0.4</text>
<text x="439.3" y="427.2" font-size="9.3" text-anchor="middle" font-weight="normal" fill="#1c1c1c"  stroke="#1c1c1c" stroke-width="0.3">0.6</text>
<text x="479.8" y="427.2" font-size="9.3" text-anchor="middle" font-weight="normal" fill="#1c1c1c"  stroke="#1c1c1c" stroke-width="0.3">0.8</text>
<text x="520.3" y="427.2" font-size="9.3" text-anchor="middle" font-weight="normal" fill="#1c1c1c"  stroke="#1c1c1c" stroke-width="0.3">1.0</text>
<text x="308" y="417.3" font-size="9.3" text-anchor="end" font-weight="normal" fill="#1c1c1c"  stroke="#1c1c1c" stroke-width="0.3">0</text>
<text x="308" y="383.3" font-size="9.3" text-anchor="end" font-weight="normal" fill="#1c1c1c"  stroke="#1c1c1c" stroke-width="0.3">50</text>
<text x="308" y="349.3" font-size="9.3" text-anchor="end" font-weight="normal" fill="#1c1c1c"  stroke="#1c1c1c" stroke-width="0.3">100</text>
<text x="308" y="315.3" font-size="9.3" text-anchor="end" font-weight="normal" fill="#1c1c1c"  stroke="#1c1c1c" stroke-width="0.3">150</text>
<text x="308" y="281.3" font-size="9.3" text-anchor="end" font-weight="normal" fill="#1c1c1c"  stroke="#1c1c1c" stroke-width="0.3">200</text>
<text x="308" y="247.3" font-size="9.3" text-anchor="end" font-weight="normal" fill="#1c1c1c"  stroke="#1c1c1c" stroke-width="0.3">250</text>
<text x="320" y="268.6" font-size="18" text-anchor="start" font-weight="normal" fill="#111" >(<tspan font-size="19">d</tspan>)</text>
<text x="287.8" y="324.6" font-size="11.5" text-anchor="middle" font-weight="bold" fill="#111" transform="rotate(-90 287.8 324.6)" >Volume adsorbed (cm<tspan font-size="10" dy="-4.5">3</tspan><tspan dy="4.5"> g</tspan><tspan font-size="10" dy="-4.5">-1</tspan><tspan dy="4.5">)</tspan></text>
<text x="356.2" y="438.4" font-size="11.1" font-weight="bold" fill="#111">Relative pressure (P/P<tspan font-size="10" dy="3">0</tspan><tspan dy="-3">)</tspan></text>
<polyline points="317.3,410.3 389.8,404.6 415.2,401.0 431.6,398.6 447.9,395.3 464.3,390.4 471.7,385.8 480.0,383.6 484.5,379.7 488.4,376.3 492.9,373.0 496.8,368.5 500.7,363.5 504.6,357.3 508.5,351.2 512.9,346.0 516.8,339.0 521.0,335.3" fill="none" stroke="#ff3030" stroke-width="0.8" stroke-linejoin="round" />
<polyline points="521.0,335.3 512.9,342.3 508.5,347.8 504.6,352.3 500.2,356.2 496.3,360.7 492.3,366.3 487.9,369.6 484.0,373.0 480.0,376.3 469.7,382.2 460.2,387.9 450.4,392.0 439.7,395.3 429.1,397.7" fill="none" stroke="#ff3030" stroke-width="0.8" stroke-linejoin="round" />
<polyline points="317.3,413.5 338.4,406.6 342.3,405.5 346.1,404.4 350.0,403.6 353.9,403.0 358.0,402.1 362.1,401.5 371.1,399.3 384.9,396.3 407.8,392.5 429.1,387.6 451.7,378.9 474.5,369.6 492.3,357.3 500.7,348.9 504.6,343.4 509.0,337.6 512.9,330.9 516.7,325.6 520.8,316.7" fill="none" stroke="#222" stroke-width="0.8" stroke-linejoin="round" />
<polyline points="520.8,316.7 512.9,327.5 504.7,336.0 500.2,341.7 496.3,346.7 484.0,357.3 474.5,364.0 451.7,375.1 429.1,386.0 415.2,389.9 407.8,392.5" fill="none" stroke="#222" stroke-width="0.8" stroke-linejoin="round" />
<polyline points="317.5,411.0 321.6,407.6 325.3,406.9 329.6,406.9 338.0,406.5 346.0,406.0 354.0,405.5 362.4,405.0 371.1,404.4 384.9,403.0 398.8,401.0 415.2,398.6 429.1,394.5 451.7,384.6 460.2,377.3 474.5,361.8 492.3,340.6 500.5,322.7 504.7,315.7 508.5,308.5 512.9,299.0 517.0,291.0 520.8,278.4" fill="none" stroke="#3050ff" stroke-width="0.8" stroke-linejoin="round" />
<polyline points="520.8,278.4 512.9,293.8 504.7,311.0 500.5,318.0 496.5,325.6 484.5,340.6 474.5,354.5 460.2,369.9 451.7,378.0 429.1,389.9 415.2,394.8 407.0,397.7" fill="none" stroke="#3050ff" stroke-width="0.8" stroke-linejoin="round" />
<path d="M317.3 410.9L319.6 413.5L317.3 416.1L315.0 413.5Z" fill="#000"/>
<path d="M338.4 404.0L340.7 406.6L338.4 409.2L336.1 406.6Z" fill="#000"/>
<path d="M342.3 402.9L344.6 405.5L342.3 408.1L340.0 405.5Z" fill="#000"/>
<path d="M346.1 401.8L348.4 404.4L346.1 407.0L343.8 404.4Z" fill="#000"/>
<path d="M350.0 401.0L352.3 403.6L350.0 406.2L347.7 403.6Z" fill="#000"/>
<path d="M353.9 400.4L356.2 403.0L353.9 405.6L351.6 403.0Z" fill="#000"/>
<path d="M358.0 399.5L360.3 402.1L358.0 404.7L355.7 402.1Z" fill="#000"/>
<path d="M362.1 398.9L364.4 401.5L362.1 404.1L359.8 401.5Z" fill="#000"/>
<path d="M371.1 396.7L373.4 399.3L371.1 401.9L368.8 399.3Z" fill="#000"/>
<path d="M384.9 393.7L387.2 396.3L384.9 398.9L382.6 396.3Z" fill="#000"/>
<path d="M407.8 389.9L410.1 392.5L407.8 395.1L405.5 392.5Z" fill="#000"/>
<path d="M429.1 385.0L431.4 387.6L429.1 390.2L426.8 387.6Z" fill="#000"/>
<path d="M451.7 376.3L454.0 378.9L451.7 381.5L449.4 378.9Z" fill="#000"/>
<path d="M474.5 367.0L476.8 369.6L474.5 372.2L472.2 369.6Z" fill="#000"/>
<path d="M492.3 354.7L494.6 357.3L492.3 359.9L490.0 357.3Z" fill="#000"/>
<path d="M500.7 346.3L503.0 348.9L500.7 351.5L498.4 348.9Z" fill="#000"/>
<path d="M504.6 340.8L506.9 343.4L504.6 346.0L502.3 343.4Z" fill="#000"/>
<path d="M509.0 335.0L511.3 337.6L509.0 340.2L506.7 337.6Z" fill="#000"/>
<path d="M512.9 328.3L515.2 330.9L512.9 333.5L510.6 330.9Z" fill="#000"/>
<path d="M516.7 323.0L519.0 325.6L516.7 328.2L514.4 325.6Z" fill="#000"/>
<path d="M520.8 314.1L523.1 316.7L520.8 319.3L518.5 316.7Z" fill="#000"/>
<path d="M520.8 314.1L523.1 316.7L520.8 319.3L518.5 316.7Z" fill="#000"/>
<path d="M512.9 324.9L515.2 327.5L512.9 330.1L510.6 327.5Z" fill="#000"/>
<path d="M504.7 333.4L507.0 336.0L504.7 338.6L502.4 336.0Z" fill="#000"/>
<path d="M500.2 339.1L502.5 341.7L500.2 344.3L497.9 341.7Z" fill="#000"/>
<path d="M496.3 344.1L498.6 346.7L496.3 349.3L494.0 346.7Z" fill="#000"/>
<path d="M484.0 354.7L486.3 357.3L484.0 359.9L481.7 357.3Z" fill="#000"/>
<path d="M474.5 361.4L476.8 364.0L474.5 366.6L472.2 364.0Z" fill="#000"/>
<path d="M451.7 372.5L454.0 375.1L451.7 377.7L449.4 375.1Z" fill="#000"/>
<path d="M429.1 383.4L431.4 386.0L429.1 388.6L426.8 386.0Z" fill="#000"/>
<path d="M415.2 387.3L417.5 389.9L415.2 392.5L412.9 389.9Z" fill="#000"/>
<path d="M407.8 389.9L410.1 392.5L407.8 395.1L405.5 392.5Z" fill="#000"/>
<circle cx="317.5" cy="411.0" r="2.35" fill="#0a28ff"/>
<circle cx="321.6" cy="407.6" r="2.35" fill="#0a28ff"/>
<circle cx="325.3" cy="406.9" r="2.35" fill="#0a28ff"/>
<circle cx="329.6" cy="406.9" r="2.35" fill="#0a28ff"/>
<circle cx="338.0" cy="406.5" r="2.35" fill="#0a28ff"/>
<circle cx="346.0" cy="406.0" r="2.35" fill="#0a28ff"/>
<circle cx="354.0" cy="405.5" r="2.35" fill="#0a28ff"/>
<circle cx="362.4" cy="405.0" r="2.35" fill="#0a28ff"/>
<circle cx="371.1" cy="404.4" r="2.35" fill="#0a28ff"/>
<circle cx="384.9" cy="403.0" r="2.35" fill="#0a28ff"/>
<circle cx="398.8" cy="401.0" r="2.35" fill="#0a28ff"/>
<circle cx="415.2" cy="398.6" r="2.35" fill="#0a28ff"/>
<circle cx="429.1" cy="394.5" r="2.35" fill="#0a28ff"/>
<circle cx="451.7" cy="384.6" r="2.35" fill="#0a28ff"/>
<circle cx="460.2" cy="377.3" r="2.35" fill="#0a28ff"/>
<circle cx="474.5" cy="361.8" r="2.35" fill="#0a28ff"/>
<circle cx="492.3" cy="340.6" r="2.35" fill="#0a28ff"/>
<circle cx="500.5" cy="322.7" r="2.35" fill="#0a28ff"/>
<circle cx="504.7" cy="315.7" r="2.35" fill="#0a28ff"/>
<circle cx="508.5" cy="308.5" r="2.35" fill="#0a28ff"/>
<circle cx="512.9" cy="299.0" r="2.35" fill="#0a28ff"/>
<circle cx="517.0" cy="291.0" r="2.35" fill="#0a28ff"/>
<circle cx="520.8" cy="278.4" r="2.35" fill="#0a28ff"/>
<circle cx="520.8" cy="278.4" r="2.35" fill="#0a28ff"/>
<circle cx="512.9" cy="293.8" r="2.35" fill="#0a28ff"/>
<circle cx="504.7" cy="311.0" r="2.35" fill="#0a28ff"/>
<circle cx="500.5" cy="318.0" r="2.35" fill="#0a28ff"/>
<circle cx="496.5" cy="325.6" r="2.35" fill="#0a28ff"/>
<circle cx="484.5" cy="340.6" r="2.35" fill="#0a28ff"/>
<circle cx="474.5" cy="354.5" r="2.35" fill="#0a28ff"/>
<circle cx="460.2" cy="369.9" r="2.35" fill="#0a28ff"/>
<circle cx="451.7" cy="378.0" r="2.35" fill="#0a28ff"/>
<circle cx="429.1" cy="389.9" r="2.35" fill="#0a28ff"/>
<circle cx="415.2" cy="394.8" r="2.35" fill="#0a28ff"/>
<circle cx="407.0" cy="397.7" r="2.35" fill="#0a28ff"/>
<circle cx="317.3" cy="410.3" r="2.4" fill="#ff1010"/><circle cx="316.8" cy="409.7" r="0.65" fill="#ffd8d8"/>
<circle cx="321.5" cy="410.0" r="2.4" fill="#ff1010"/><circle cx="321.0" cy="409.4" r="0.65" fill="#ffd8d8"/>
<circle cx="325.7" cy="409.7" r="2.4" fill="#ff1010"/><circle cx="325.2" cy="409.1" r="0.65" fill="#ffd8d8"/>
<circle cx="329.9" cy="409.4" r="2.4" fill="#ff1010"/><circle cx="329.4" cy="408.8" r="0.65" fill="#ffd8d8"/>
<circle cx="334.1" cy="409.1" r="2.4" fill="#ff1010"/><circle cx="333.6" cy="408.5" r="0.65" fill="#ffd8d8"/>
<circle cx="338.3" cy="408.7" r="2.4" fill="#ff1010"/><circle cx="337.8" cy="408.1" r="0.65" fill="#ffd8d8"/>
<circle cx="342.5" cy="408.4" r="2.4" fill="#ff1010"/><circle cx="342.0" cy="407.8" r="0.65" fill="#ffd8d8"/>
<circle cx="346.7" cy="408.1" r="2.4" fill="#ff1010"/><circle cx="346.2" cy="407.5" r="0.65" fill="#ffd8d8"/>
<circle cx="350.9" cy="407.8" r="2.4" fill="#ff1010"/><circle cx="350.4" cy="407.2" r="0.65" fill="#ffd8d8"/>
<circle cx="355.1" cy="407.5" r="2.4" fill="#ff1010"/><circle cx="354.6" cy="406.9" r="0.65" fill="#ffd8d8"/>
<circle cx="359.3" cy="407.2" r="2.4" fill="#ff1010"/><circle cx="358.8" cy="406.6" r="0.65" fill="#ffd8d8"/>
<circle cx="363.5" cy="406.9" r="2.4" fill="#ff1010"/><circle cx="363.0" cy="406.3" r="0.65" fill="#ffd8d8"/>
<circle cx="367.7" cy="406.6" r="2.4" fill="#ff1010"/><circle cx="367.2" cy="406.0" r="0.65" fill="#ffd8d8"/>
<circle cx="371.9" cy="406.2" r="2.4" fill="#ff1010"/><circle cx="371.4" cy="405.6" r="0.65" fill="#ffd8d8"/>
<circle cx="376.1" cy="405.9" r="2.4" fill="#ff1010"/><circle cx="375.6" cy="405.3" r="0.65" fill="#ffd8d8"/>
<circle cx="380.3" cy="405.6" r="2.4" fill="#ff1010"/><circle cx="379.8" cy="405.0" r="0.65" fill="#ffd8d8"/>
<circle cx="384.5" cy="405.3" r="2.4" fill="#ff1010"/><circle cx="384.0" cy="404.7" r="0.65" fill="#ffd8d8"/>
<circle cx="388.7" cy="405.0" r="2.4" fill="#ff1010"/><circle cx="388.2" cy="404.4" r="0.65" fill="#ffd8d8"/>
<circle cx="389.8" cy="404.6" r="2.4" fill="#ff1010"/><circle cx="389.3" cy="404.0" r="0.65" fill="#ffd8d8"/>
<circle cx="394.0" cy="404.0" r="2.4" fill="#ff1010"/><circle cx="393.5" cy="403.4" r="0.65" fill="#ffd8d8"/>
<circle cx="398.8" cy="403.5" r="2.4" fill="#ff1010"/><circle cx="398.3" cy="402.9" r="0.65" fill="#ffd8d8"/>
<circle cx="403.0" cy="402.6" r="2.4" fill="#ff1010"/><circle cx="402.5" cy="402.0" r="0.65" fill="#ffd8d8"/>
<circle cx="407.8" cy="401.8" r="2.4" fill="#ff1010"/><circle cx="407.3" cy="401.2" r="0.65" fill="#ffd8d8"/>
<circle cx="411.5" cy="401.4" r="2.4" fill="#ff1010"/><circle cx="411.0" cy="400.8" r="0.65" fill="#ffd8d8"/>
<circle cx="415.2" cy="401.0" r="2.4" fill="#ff1010"/><circle cx="414.7" cy="400.4" r="0.65" fill="#ffd8d8"/>
<circle cx="419.0" cy="400.4" r="2.4" fill="#ff1010"/><circle cx="418.5" cy="399.8" r="0.65" fill="#ffd8d8"/>
<circle cx="423.4" cy="399.7" r="2.4" fill="#ff1010"/><circle cx="422.9" cy="399.1" r="0.65" fill="#ffd8d8"/>
<circle cx="429.1" cy="397.7" r="2.4" fill="#ff1010"/><circle cx="428.6" cy="397.1" r="0.65" fill="#ffd8d8"/>
<circle cx="431.6" cy="398.6" r="2.4" fill="#ff1010"/><circle cx="431.1" cy="398.0" r="0.65" fill="#ffd8d8"/>
<circle cx="435.5" cy="397.6" r="2.4" fill="#ff1010"/><circle cx="435.0" cy="397.0" r="0.65" fill="#ffd8d8"/>
<circle cx="439.7" cy="395.3" r="2.4" fill="#ff1010"/><circle cx="439.2" cy="394.7" r="0.65" fill="#ffd8d8"/>
<circle cx="439.7" cy="396.9" r="2.4" fill="#ff1010"/><circle cx="439.2" cy="396.3" r="0.65" fill="#ffd8d8"/>
<circle cx="444.0" cy="396.0" r="2.4" fill="#ff1010"/><circle cx="443.5" cy="395.4" r="0.65" fill="#ffd8d8"/>
<circle cx="447.9" cy="395.3" r="2.4" fill="#ff1010"/><circle cx="447.4" cy="394.7" r="0.65" fill="#ffd8d8"/>
<circle cx="450.4" cy="392.0" r="2.4" fill="#ff1010"/><circle cx="449.9" cy="391.4" r="0.65" fill="#ffd8d8"/>
<circle cx="456.1" cy="392.8" r="2.4" fill="#ff1010"/><circle cx="455.6" cy="392.2" r="0.65" fill="#ffd8d8"/>
<circle cx="460.2" cy="387.9" r="2.4" fill="#ff1010"/><circle cx="459.7" cy="387.3" r="0.65" fill="#ffd8d8"/>
<circle cx="464.3" cy="390.4" r="2.4" fill="#ff1010"/><circle cx="463.8" cy="389.8" r="0.65" fill="#ffd8d8"/>
<circle cx="469.7" cy="382.2" r="2.4" fill="#ff1010"/><circle cx="469.2" cy="381.6" r="0.65" fill="#ffd8d8"/>
<circle cx="471.7" cy="385.8" r="2.4" fill="#ff1010"/><circle cx="471.2" cy="385.2" r="0.65" fill="#ffd8d8"/>
<circle cx="476.0" cy="385.0" r="2.4" fill="#ff1010"/><circle cx="475.5" cy="384.4" r="0.65" fill="#ffd8d8"/>
<circle cx="480.0" cy="383.6" r="2.4" fill="#ff1010"/><circle cx="479.5" cy="383.0" r="0.65" fill="#ffd8d8"/>
<circle cx="480.0" cy="376.3" r="2.4" fill="#ff1010"/><circle cx="479.5" cy="375.7" r="0.65" fill="#ffd8d8"/>
<circle cx="484.5" cy="379.7" r="2.4" fill="#ff1010"/><circle cx="484.0" cy="379.1" r="0.65" fill="#ffd8d8"/>
<circle cx="484.0" cy="373.0" r="2.4" fill="#ff1010"/><circle cx="483.5" cy="372.4" r="0.65" fill="#ffd8d8"/>
<circle cx="488.4" cy="376.3" r="2.4" fill="#ff1010"/><circle cx="487.9" cy="375.7" r="0.65" fill="#ffd8d8"/>
<circle cx="487.9" cy="369.6" r="2.4" fill="#ff1010"/><circle cx="487.4" cy="369.0" r="0.65" fill="#ffd8d8"/>
<circle cx="492.9" cy="373.0" r="2.4" fill="#ff1010"/><circle cx="492.4" cy="372.4" r="0.65" fill="#ffd8d8"/>
<circle cx="492.3" cy="366.3" r="2.4" fill="#ff1010"/><circle cx="491.8" cy="365.7" r="0.65" fill="#ffd8d8"/>
<circle cx="496.8" cy="368.5" r="2.4" fill="#ff1010"/><circle cx="496.3" cy="367.9" r="0.65" fill="#ffd8d8"/>
<circle cx="496.3" cy="360.7" r="2.4" fill="#ff1010"/><circle cx="495.8" cy="360.1" r="0.65" fill="#ffd8d8"/>
<circle cx="500.7" cy="363.5" r="2.4" fill="#ff1010"/><circle cx="500.2" cy="362.9" r="0.65" fill="#ffd8d8"/>
<circle cx="500.2" cy="356.2" r="2.4" fill="#ff1010"/><circle cx="499.7" cy="355.6" r="0.65" fill="#ffd8d8"/>
<circle cx="504.6" cy="357.3" r="2.4" fill="#ff1010"/><circle cx="504.1" cy="356.7" r="0.65" fill="#ffd8d8"/>
<circle cx="504.6" cy="352.3" r="2.4" fill="#ff1010"/><circle cx="504.1" cy="351.7" r="0.65" fill="#ffd8d8"/>
<circle cx="508.5" cy="351.2" r="2.4" fill="#ff1010"/><circle cx="508.0" cy="350.6" r="0.65" fill="#ffd8d8"/>
<circle cx="508.5" cy="347.8" r="2.4" fill="#ff1010"/><circle cx="508.0" cy="347.2" r="0.65" fill="#ffd8d8"/>
<circle cx="512.9" cy="346.0" r="2.4" fill="#ff1010"/><circle cx="512.4" cy="345.4" r="0.65" fill="#ffd8d8"/>
<circle cx="512.9" cy="342.3" r="2.4" fill="#ff1010"/><circle cx="512.4" cy="341.7" r="0.65" fill="#ffd8d8"/>
<circle cx="516.8" cy="339.0" r="2.4" fill="#ff1010"/><circle cx="516.3" cy="338.4" r="0.65" fill="#ffd8d8"/>
<circle cx="521.0" cy="335.3" r="2.4" fill="#ff1010"/><circle cx="520.5" cy="334.7" r="0.65" fill="#ffd8d8"/>
<line x1="382.3" y1="281.5" x2="407" y2="281.5" stroke="#5a70ff" stroke-width="1"/>
<circle cx="394.9" cy="281.5" r="2.2" fill="#1030ff"/>
<text x="410.6" y="285.3" font-size="10.9" text-anchor="start" font-weight="normal" fill="#222"  stroke="#222" stroke-width="0.15">Carbon</text>
<line x1="382.3" y1="294.8" x2="407" y2="294.8" stroke="#888" stroke-width="1"/>
<path d="M394.9 292.2L397.3 294.8L394.9 297.40000000000003L392.5 294.8Z" fill="#000"/>
<text x="410.6" y="298.6" font-size="10.9" text-anchor="start" font-weight="normal" fill="#222"  stroke="#222" stroke-width="0.15">FeOOH</text>
<line x1="382.3" y1="308.4" x2="407" y2="308.4" stroke="#ff9a9a" stroke-width="1"/>
<circle cx="394.9" cy="308.4" r="2.4" fill="#ff1010"/><circle cx="394.4" cy="307.79999999999995" r="0.65" fill="#ffd8d8"/>
<text x="410.6" y="312.2" font-size="10.9" text-anchor="start" font-weight="normal" fill="#222"  stroke="#222" stroke-width="0.15">FeOOH/C</text>
</svg></body></html>
